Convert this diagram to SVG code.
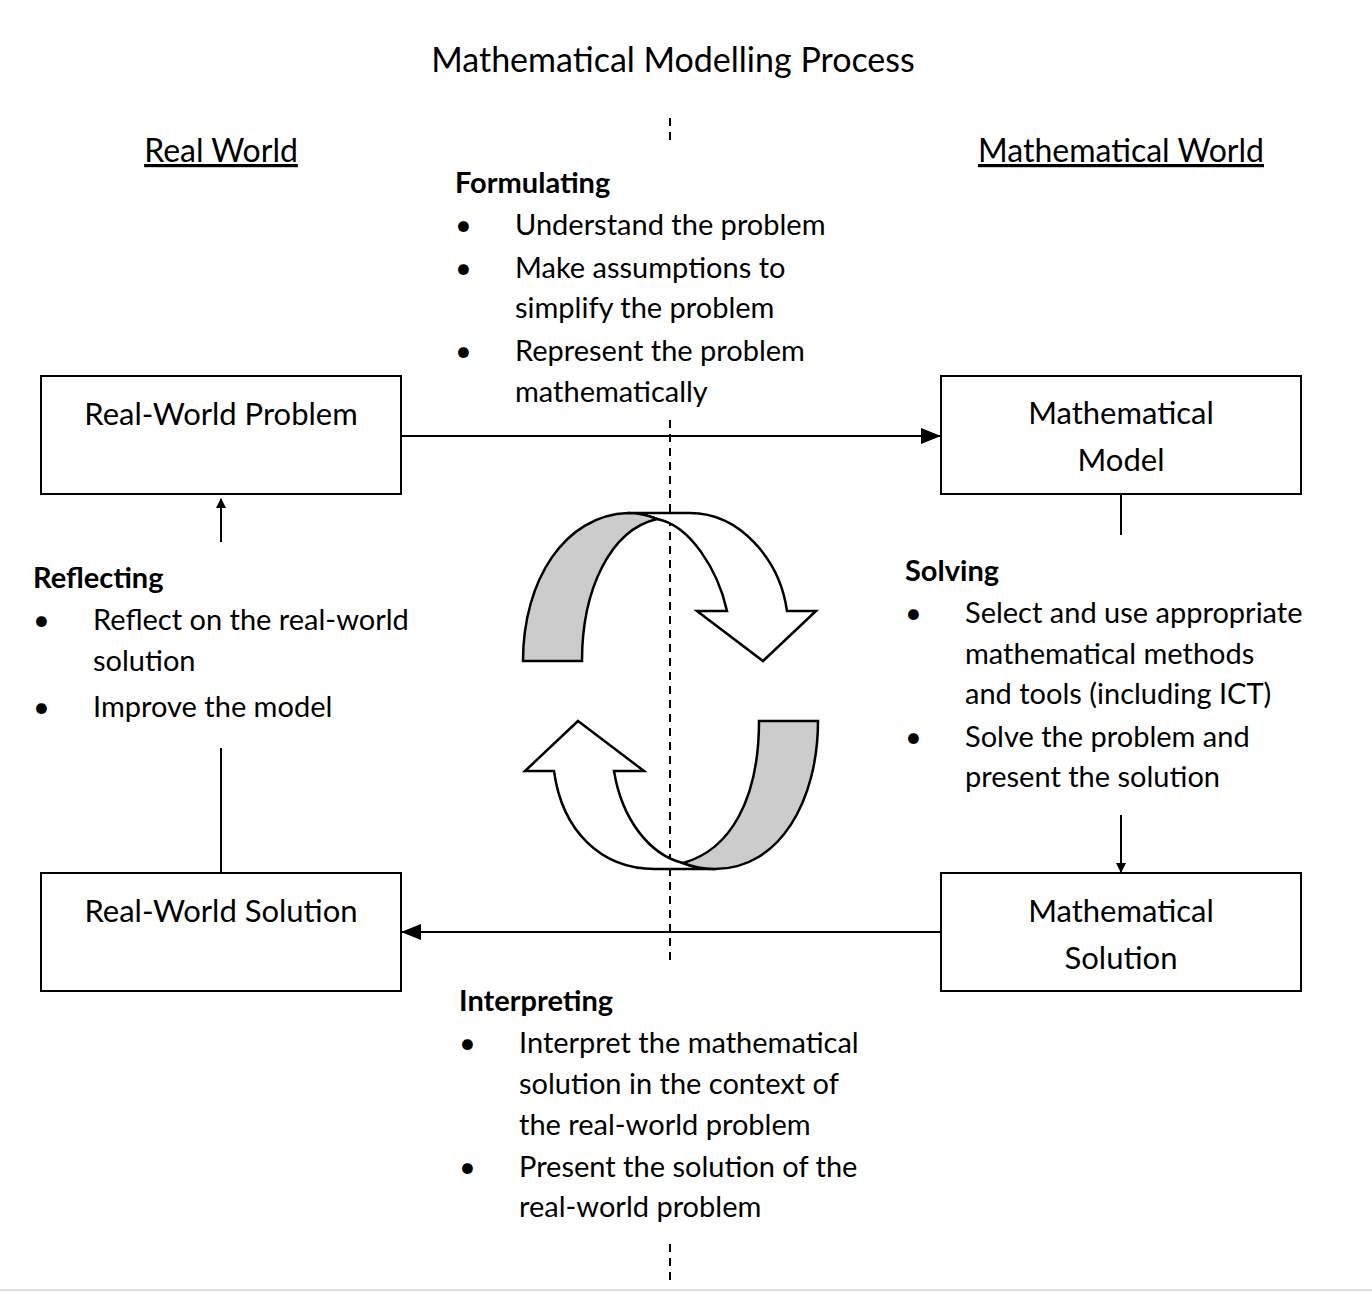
<svg xmlns="http://www.w3.org/2000/svg" width="1372" height="1292" viewBox="0 0 1372 1292">
<style>
text{font-family:Lato,"Liberation Sans",sans-serif;font-size:29px;fill:#000}
.b{font-weight:bold}
.box{fill:#fff;stroke:#000;stroke-width:2}
.ln{stroke:#000;stroke-width:2;fill:none}
.sh{stroke:#000;stroke-width:2.5;stroke-linejoin:miter}
</style>
<defs><marker id="ah" markerWidth="10" markerHeight="10" refX="9" refY="5" orient="auto" markerUnits="userSpaceOnUse" viewBox="0 0 10 10"><path d="M0,0 L10,5 L0,10 Z" fill="#000"/></marker>
<marker id="ah2" markerWidth="20" markerHeight="16" refX="19" refY="8" orient="auto" markerUnits="userSpaceOnUse" viewBox="0 0 20 16"><path d="M0,0 L20,8 L0,16 Z" fill="#000"/></marker></defs>
<rect width="1372" height="1292" fill="#fff"/>
<line x1="0" y1="1290" x2="1372" y2="1290" stroke="#ddd" stroke-width="2"/>
<text x="673" y="72" text-anchor="middle" style="font-size:34px">Mathematical Modelling Process</text>
<text x="221" y="162" text-anchor="middle" text-decoration="underline" style="font-size:32px">Real World</text>
<text x="1121" y="162" text-anchor="middle" text-decoration="underline" style="font-size:32px">Mathematical World</text>
<g stroke="#000" stroke-width="2" stroke-dasharray="8,6"><line x1="670" y1="118" x2="670" y2="146"/><line x1="670" y1="420" x2="670" y2="966"/><line x1="670" y1="1244" x2="670" y2="1280"/></g>
<g id="connectors">
<line class="ln" x1="401" y1="436" x2="940" y2="436" marker-end="url(#ah2)"/>
<line class="ln" x1="941" y1="932" x2="402" y2="932" marker-end="url(#ah2)"/>
<line class="ln" x1="1121" y1="494" x2="1121" y2="535"/>
<line class="ln" x1="1121" y1="815" x2="1121" y2="872" marker-end="url(#ah)"/>
<line class="ln" x1="221" y1="748" x2="221" y2="873"/>
<line class="ln" x1="221" y1="542" x2="221" y2="499" marker-end="url(#ah)"/>
</g>
<g id="cycle">
<path class="sh" fill="#fff" d="M628,513 L690,513 C740,513 780,560 787,611 L816,611 L763,661 L697,611 L727,611 C718,570 690,525 657,519 C645,514 635,513 628,513 Z"/>
<path class="sh" fill="#ccc" d="M523,661 L582,661 C582,590 610,530 657,519 C645,514 635,513 628,513 C565,515 523,580 523,661 Z"/>
<path class="sh" fill="#fff" d="M578,721 L644,771 L614,771 C622,820 650,855 683,863 C695,868 705,869 715,869 L655,869 C600,869 562,830 554,771 L525,771 Z"/>
<path class="sh" fill="#ccc" d="M759,721 L818,721 C818,800 780,869 715,869 C705,869 695,868 683,863 C730,850 759,800 759,721 Z"/>
</g>
<g id="rwp"><rect class="box" x="41" y="376" width="360" height="118"/><text x="221" y="425" text-anchor="middle" style="font-size:31px">Real-World Problem</text></g>
<g id="mm"><rect class="box" x="941" y="376" width="360" height="118"/><text x="1121" y="424" text-anchor="middle" style="font-size:31px">Mathematical</text><text x="1121" y="471" text-anchor="middle" style="font-size:31px">Model</text></g>
<g id="rws"><rect class="box" x="41" y="873" width="360" height="118"/><text x="221" y="922" text-anchor="middle" style="font-size:31px">Real-World Solution</text></g>
<g id="ms"><rect class="box" x="941" y="873" width="360" height="118"/><text x="1121" y="922" text-anchor="middle" style="font-size:31px">Mathematical</text><text x="1121" y="969" text-anchor="middle" style="font-size:31px">Solution</text></g>
<g id="formulating">
<text x="455" y="193" class="b">Formulating</text>
<text x="455" y="235">•</text><text x="515" y="235">Understand the problem</text>
<text x="455" y="278">•</text><text x="515" y="278">Make assumptions to</text>
<text x="515" y="318">simplify the problem</text>
<text x="455" y="361">•</text><text x="515" y="361">Represent the problem</text>
<text x="515" y="402">mathematically</text>
</g>
<g id="solving">
<text x="905" y="581" class="b">Solving</text>
<text x="905" y="623">•</text><text x="965" y="623">Select and use appropriate</text>
<text x="965" y="664">mathematical methods</text>
<text x="965" y="704">and tools (including ICT)</text>
<text x="905" y="747">•</text><text x="965" y="747">Solve the problem and</text>
<text x="965" y="787">present the solution</text>
</g>
<g id="reflecting">
<text x="33" y="588" class="b">Reflecting</text>
<text x="33" y="630">•</text><text x="93" y="630">Reflect on the real-world</text>
<text x="93" y="671">solution</text>
<text x="33" y="717">•</text><text x="93" y="717">Improve the model</text>
</g>
<g id="interpreting">
<text x="459" y="1011" class="b">Interpreting</text>
<text x="459" y="1053">•</text><text x="519" y="1053">Interpret the mathematical</text>
<text x="519" y="1094">solution in the context of</text>
<text x="519" y="1135">the real-world problem</text>
<text x="459" y="1177">•</text><text x="519" y="1177">Present the solution of the</text>
<text x="519" y="1217">real-world problem</text>
</g>
</svg>
